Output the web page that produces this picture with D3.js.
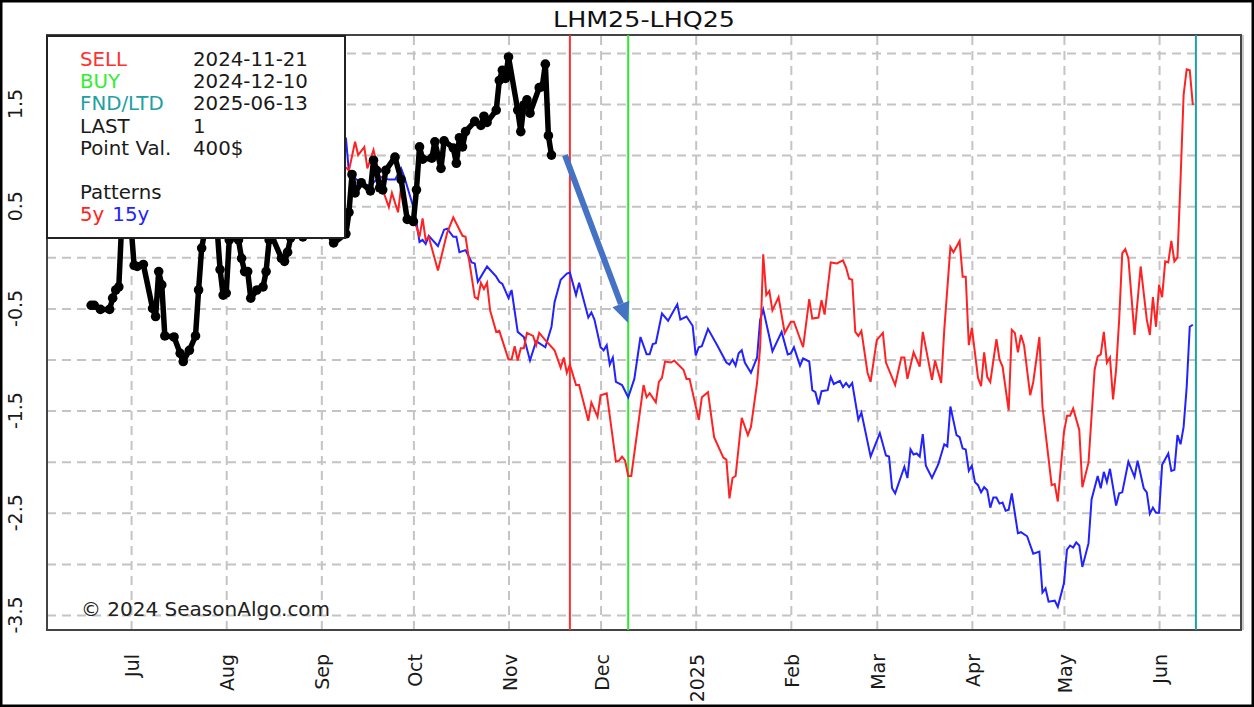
<!DOCTYPE html>
<html>
<head>
<meta charset="utf-8">
<script src="https://cdn.jsdelivr.net/npm/d3@7"></script>
<style>
  body { margin: 0; background: #fff; }
  text { font-family: "DejaVu Sans", sans-serif; }
  .grid line { stroke: #c4c4c4; stroke-width: 2; stroke-dasharray: 9 6; }
  .grid path { display: none; }
  .ticks path, .ticks line { display: none; }
  .ticks text { font-family: "DejaVu Sans", sans-serif; font-size: 19px; fill: #1a1a1a; }
</style>
</head>
<body>
<svg id="chart" width="1254" height="707"></svg>
<script>
var title = "LHM25-LHQ25";

var monthTicks = ["2024-07-01","2024-08-01","2024-09-01","2024-10-01","2024-11-01","2024-12-01","2025-01-01","2025-02-01","2025-03-01","2025-04-01","2025-05-01","2025-06-01"];
var monthLabels = ["Jul","Aug","Sep","Oct","Nov","Dec","2025","Feb","Mar","Apr","May","Jun"];
var yLabels = [1.5, 0.5, -0.5, -1.5, -2.5, -3.5];
var yGrid = [2, 1.5, 1, 0.5, 0, -0.5, -1, -1.5, -2, -2.5, -3, -3.5];

var sellDate = "2024-11-21";
var buyDate = "2024-12-10";
var lastDate = "2025-06-13";

var infoLabels = ["SELL", "BUY", "FND/LTD", "LAST", "Point Val."];
var infoValues = [sellDate, buyDate, lastDate, "1", "400$"];

var arrowDays = [141.4, 161.9];
var arrowValues = [1.0, -0.64];

var lastDays = [-13,-12,-10,-7,-6,-5,-4,-3,-1,0,1,2,4,7,8,9,10,11,14,16,17,19,21,22,23,25,28,29,30,31,32,34,35,36,37,38,39,41,43,44,45,46,49,50,51,52,55,56,60,66,70,71,72,73,75,78,79,80,81,82,83,86,88,90,92,93,94,95,98,99,101,102,105,106,107,108,109,112,114,115,116,119,120,121,122,123,126,127,128,129,130,133,134,135,136,137];
var lastValues = [-0.47,-0.47,-0.51,-0.51,-0.40,-0.32,-0.29,0.37,0.5,0.30,-0.08,-0.09,-0.07,-0.50,-0.58,-0.14,-0.27,-0.77,-0.78,-0.94,-1.02,-0.91,-0.77,-0.32,0.09,0.41,0.30,-0.12,-0.37,-0.35,0.17,0.40,0.17,-0.01,-0.14,-0.14,-0.40,-0.32,-0.29,-0.14,0.17,0.20,-0.01,-0.04,0.05,0.19,0.5,0.20,0.5,0.14,0.23,0.44,0.81,0.63,0.73,0.65,0.95,0.85,0.68,0.66,0.85,0.98,0.76,0.37,0.35,0.66,1.08,0.96,0.97,1.13,0.87,1.14,1.07,0.92,1.17,1.08,1.23,1.33,1.29,1.38,1.32,1.44,1.73,1.83,1.75,1.96,1.44,1.23,1.49,1.54,1.41,1.66,1.67,1.89,1.19,1.00];

var redDays = [70,71,73,74,76,77,79,81,82,84,85,87,88,90,93,94,95,96,97,100,103,105,108,109,112,113,114,115,116,117,119,120,123,124,125,126,127,128,129,131,132,133,135,138,140,141,142,143,145,146,149,150,152,153,155,158,159,160,161,162,163,167,168,169,171,172,173,174,176,177,180,181,182,185,186,188,190,193,194,195,196,197,199,201,202,204,205,206,207,208,209,211,213,215,216,219,221,222,224,225,226,228,230,232,233,234,235,236,237,238,240,241,243,245,246,249,251,252,253,255,257,258,261,262,264,265,267,268,270,271,272,273,274,276,277,278,279,280,282,283,284,286,287,288,289,290,291,293,294,296,297,300,301,302,304,305,306,307,309,310,312,314,315,316,317,318,319,320,321,322,323,324,325,327,329,331,332,333,334,335,336,337,338,339,340,341,342,343,344,345,346];
var redValues = [0.88,0.85,1.13,1.00,1.08,0.87,1.05,0.79,0.66,0.49,0.63,0.44,0.69,0.43,0.30,0.20,0.38,0.17,0.20,-0.13,0.24,0.39,0.21,0.20,-0.39,-0.41,-0.25,-0.31,-0.25,-0.52,-0.73,-0.72,-1.00,-1.00,-0.87,-1.01,-0.89,-0.89,-0.74,-0.77,-0.86,-0.74,-0.81,-0.91,-1.08,-0.98,-1.13,-1.05,-1.25,-1.25,-1.60,-1.42,-1.56,-1.35,-1.33,-2.00,-1.99,-1.95,-1.99,-2.14,-2.14,-1.25,-1.37,-1.33,-1.42,-1.22,-1.18,-1.02,-1.03,-1.01,-1.10,-1.19,-1.19,-1.59,-1.37,-1.32,-1.76,-1.96,-1.98,-2.36,-2.16,-2.14,-1.57,-1.74,-1.66,-1.23,-0.88,0.03,-0.37,-0.33,-0.52,-0.39,-0.74,-0.63,-0.63,-0.88,-0.41,-0.60,-0.59,-0.42,-0.56,-0.05,-0.06,-0.03,-0.10,-0.21,-0.22,-0.73,-0.77,-0.72,-1.13,-1.22,-0.81,-0.74,-1.03,-1.25,-0.98,-0.98,-1.19,-0.93,-1.07,-0.73,-1.20,-1.01,-1.23,-0.71,0.10,0.05,0.16,-0.19,-0.19,-0.86,-0.69,-1.18,-1.26,-0.93,-1.17,-1.22,-0.80,-1.00,-1.07,-1.50,-0.71,-0.74,-0.93,-0.76,-0.86,-1.35,-1.22,-0.78,-1.46,-2.23,-2.22,-2.39,-1.71,-1.55,-1.55,-1.48,-1.69,-2.25,-2.01,-1.10,-0.97,-0.95,-0.73,-1.03,-0.98,-1.39,-1.10,-0.61,0.04,0.08,-0.01,-0.76,-0.09,-0.61,-0.76,-0.39,-0.68,-0.27,-0.39,-0.04,-0.05,0.16,-0.04,0.00,0.76,1.59,1.84,1.83,1.49];

var blueDays = [70,71,75,78,81,84,86,88,89,92,93,94,95,96,97,100,102,103,105,106,107,109,111,112,113,116,119,120,121,123,124,126,128,130,132,135,137,138,140,142,143,145,146,149,150,151,153,154,155,156,157,158,160,162,164,166,168,169,170,171,173,175,178,179,181,183,184,185,186,188,191,194,195,196,197,198,199,200,202,204,205,206,208,209,212,214,215,216,218,219,221,222,223,224,225,227,228,229,231,232,233,234,235,237,238,241,244,246,247,248,249,252,253,254,255,256,257,258,259,261,263,265,266,267,269,270,271,272,273,274,275,276,277,278,279,280,281,282,283,284,285,286,287,289,290,292,294,296,297,298,299,301,302,304,305,306,307,308,309,310,312,313,315,316,317,318,319,321,322,323,325,327,328,330,331,332,333,334,335,336,338,339,340,341,342,343,344,345,346];
var blueValues = [1.17,0.83,0.72,0.70,0.79,0.76,0.76,0.87,0.79,0.49,0.34,0.15,0.17,0.13,0.21,0.11,0.27,0.28,0.20,0.20,0.05,0.07,-0.05,-0.06,-0.24,-0.09,-0.19,-0.24,-0.26,-0.40,-0.32,-0.73,-0.78,-1.01,-0.82,-0.88,-0.68,-0.44,-0.22,-0.16,-0.15,-0.37,-0.25,-0.59,-0.54,-0.61,-0.88,-0.91,-0.86,-1.05,-0.98,-1.22,-1.25,-1.37,-1.19,-0.78,-0.95,-0.95,-0.85,-0.84,-0.55,-0.62,-0.46,-0.61,-0.58,-0.67,-0.96,-0.88,-0.87,-0.70,-0.86,-1.03,-1.05,-1.00,-1.06,-0.94,-0.91,-1.03,-1.13,-0.98,-0.61,-0.51,-0.78,-0.92,-0.73,-0.95,-0.94,-0.88,-1.06,-0.99,-1.02,-1.30,-1.32,-1.44,-1.31,-1.30,-1.17,-1.24,-1.21,-1.27,-1.23,-1.27,-1.23,-1.59,-1.52,-1.95,-1.72,-1.94,-1.95,-2.26,-2.31,-2.05,-2.16,-1.88,-1.93,-1.92,-1.95,-1.73,-2.04,-2.16,-2.03,-1.83,-1.85,-1.46,-1.74,-1.76,-1.87,-1.88,-2.09,-2.04,-2.20,-2.23,-2.30,-2.25,-2.28,-2.45,-2.35,-2.35,-2.41,-2.40,-2.48,-2.47,-2.31,-2.70,-2.69,-2.73,-2.90,-2.88,-3.28,-3.24,-3.37,-3.36,-3.42,-3.19,-2.86,-2.82,-2.84,-2.79,-2.82,-3.03,-2.80,-2.37,-2.14,-2.26,-2.10,-2.20,-2.07,-2.43,-2.31,-2.30,-2.00,-2.15,-1.99,-2.26,-2.30,-2.51,-2.45,-2.50,-2.50,-2.03,-1.92,-2.09,-2.08,-1.74,-1.83,-1.66,-1.27,-0.68,-0.66];

var parseDay = d3.timeParse("%Y-%m-%d");
var dayZero = parseDay("2024-07-01");

function dayToDate(d) {
  return new Date(dayZero.getTime() + d * 86400000);
}

function makeRows(days, values) {
  return days.map(function (d, i) {
    return { date: dayToDate(d), value: values[i] };
  });
}

function drawChart() {
  var width = 1254, height = 707;
  var margin = { top: 35, right: 13, bottom: 77, left: 47 };
  var svg = d3.select("#chart");

  var x = d3.scaleTime()
    .domain([dayToDate(-27.4), dayToDate(361.7)])
    .range([margin.left, width - margin.right]);

  var y = d3.scaleLinear()
    .domain([2.175, -3.647])
    .range([margin.top, height - margin.bottom]);

  var monthDates = monthTicks.map(parseDay);

  svg.append("rect")
    .attr("x", 1).attr("y", 1)
    .attr("width", width - 2).attr("height", height - 2)
    .attr("fill", "#fff").attr("stroke", "#000").attr("stroke-width", 3);

  // grid
  svg.append("g").attr("class", "grid")
    .attr("transform", "translate(0," + (height - margin.bottom) + ")")
    .call(d3.axisBottom(x).tickValues(monthDates).tickFormat("").tickSize(-(height - margin.top - margin.bottom)));

  svg.append("g").attr("class", "grid")
    .attr("transform", "translate(" + margin.left + ",0)")
    .call(d3.axisLeft(y).tickValues(yGrid).tickFormat("").tickSize(-(width - margin.left - margin.right)));

  // frame shadow then frame
  svg.append("line")
    .attr("x1", width - margin.right + 2).attr("x2", width - margin.right + 2)
    .attr("y1", margin.top).attr("y2", height - margin.bottom)
    .attr("stroke", "#c8c8c8").attr("stroke-width", 2);

  svg.append("rect")
    .attr("x", margin.left).attr("y", margin.top)
    .attr("width", width - margin.left - margin.right)
    .attr("height", height - margin.top - margin.bottom)
    .attr("fill", "none").attr("stroke", "#444").attr("stroke-width", 2);

  // tick labels
  var xAxis = svg.append("g").attr("class", "ticks")
    .attr("transform", "translate(0," + (height - margin.bottom) + ")")
    .call(d3.axisBottom(x).tickValues(monthDates).tickFormat(function (d, i) { return monthLabels[i]; }));

  xAxis.selectAll("text")
    .attr("text-anchor", "end")
    .attr("transform", "rotate(-90)")
    .attr("x", -24).attr("y", 1).attr("dy", "0.35em");

  var yAxis = svg.append("g").attr("class", "ticks")
    .attr("transform", "translate(" + margin.left + ",0)")
    .call(d3.axisLeft(y).tickValues(yLabels).tickFormat(function (d) { return d.toFixed(1); }));

  yAxis.selectAll("text")
    .attr("text-anchor", "middle")
    .attr("transform", function (d) { return "translate(-32," + y(d) + ") rotate(-90)"; })
    .attr("x", 0).attr("y", 0).attr("dy", "0.35em");

  yAxis.selectAll(".tick").attr("transform", null);

  svg.append("text")
    .attr("x", 644).attr("y", 27)
    .attr("text-anchor", "middle")
    .attr("font-size", 22)
    .attr("fill", "#111")
    .attr("textLength", 182)
    .attr("lengthAdjust", "spacingAndGlyphs")
    .text(title);

  // key dates
  var keyDates = [
    { date: sellDate, color: "#ff3030" },
    { date: buyDate, color: "#30e830" },
    { date: lastDate, color: "#20a0a0" }
  ];

  svg.selectAll(".key")
    .data(keyDates)
    .enter().append("line")
    .attr("class", "key")
    .attr("x1", function (d) { return x(parseDay(d.date)); })
    .attr("x2", function (d) { return x(parseDay(d.date)); })
    .attr("y1", margin.top).attr("y2", height - margin.bottom)
    .attr("stroke", function (d) { return d.color; })
    .attr("stroke-width", 2);

  svg.append("text")
    .attr("x", 81).attr("y", 616)
    .attr("font-size", 20)
    .attr("fill", "#222")
    .text("\u00a9 2024 SeasonAlgo.com");

  var line = d3.line()
    .x(function (d) { return x(d.date); })
    .y(function (d) { return y(d.value); });

  svg.append("path")
    .datum(makeRows(blueDays, blueValues))
    .attr("d", line)
    .attr("fill", "none").attr("stroke", "#2222ff").attr("stroke-width", 2);

  svg.append("path")
    .datum(makeRows(redDays, redValues))
    .attr("d", line)
    .attr("fill", "none").attr("stroke", "#ff2222").attr("stroke-width", 2);

  var lastRows = makeRows(lastDays, lastValues);

  svg.append("path")
    .datum(lastRows)
    .attr("d", line)
    .attr("fill", "none").attr("stroke", "#000").attr("stroke-width", 5.5)
    .attr("stroke-linejoin", "round");

  svg.selectAll(".dot")
    .data(lastRows)
    .enter().append("circle")
    .attr("class", "dot")
    .attr("cx", function (d) { return x(d.date); })
    .attr("cy", function (d) { return y(d.value); })
    .attr("r", 4.8)
    .attr("fill", "#000");

  // info box
  svg.append("rect")
    .attr("x", margin.left).attr("y", margin.top + 1)
    .attr("width", 298).attr("height", 202)
    .attr("fill", "#fff").attr("stroke", "#222").attr("stroke-width", 2);

  var infoColors = ["#ff3030", "#30ee30", "#20a0a0", "#1a1a1a", "#1a1a1a"];
  var rowY = d3.scaleLinear().domain([0, 1]).range([66, 88.2]);

  infoLabels.forEach(function (label, i) {
    svg.append("text").attr("x", 80).attr("y", rowY(i))
      .attr("font-size", 19.8).attr("fill", infoColors[i]).text(label);
    svg.append("text").attr("x", 193).attr("y", rowY(i))
      .attr("font-size", 19.8).attr("fill", "#1a1a1a").text(infoValues[i]);
  });

  svg.append("text").attr("x", 80).attr("y", rowY(6))
    .attr("font-size", 19.8).attr("fill", "#1a1a1a").text("Patterns");

  var pattern = svg.append("text").attr("x", 80).attr("y", rowY(7))
    .attr("font-size", 19.8);
  pattern.append("tspan").attr("fill", "#ff2222").text("5y");
  pattern.append("tspan").attr("fill", "#2222ff").attr("dx", 8).text("15y");

  // arrow pasted over the chart
  var ax0 = x(dayToDate(arrowDays[0])), ay0 = y(arrowValues[0]);
  var ax1 = x(dayToDate(arrowDays[1])), ay1 = y(arrowValues[1]);
  var len = Math.sqrt((ax1 - ax0) * (ax1 - ax0) + (ay1 - ay0) * (ay1 - ay0));
  var ux = (ax1 - ax0) / len, uy = (ay1 - ay0) / len;
  var bx = ax1 - ux * 20, by = ay1 - uy * 20;

  svg.append("line")
    .attr("x1", ax0).attr("y1", ay0).attr("x2", bx).attr("y2", by)
    .attr("stroke", "#4472c4").attr("stroke-width", 6);

  svg.append("path")
    .attr("d", d3.line()([[ax1, ay1], [bx - uy * 9, by + ux * 9], [bx + uy * 9, by - ux * 9]]))
    .attr("fill", "#4472c4");
}

drawChart();
</script>
</body>
</html>
